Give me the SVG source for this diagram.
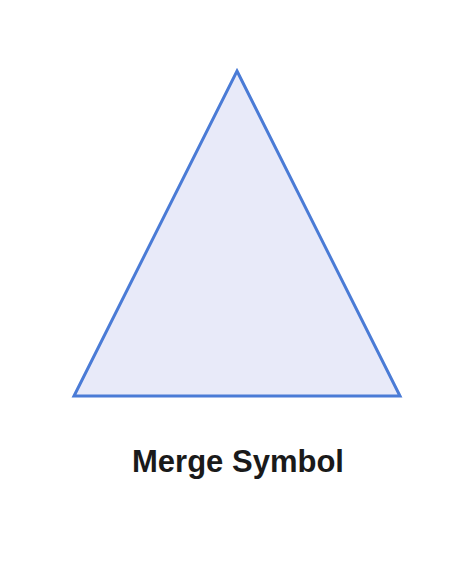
<svg xmlns="http://www.w3.org/2000/svg" width="474" height="571" viewBox="0 0 474 571">
<style>
.sym{fill:#e8eaf9;stroke:#4a7bd6;stroke-width:3;stroke-linejoin:miter}
.lbl{font-family:"Liberation Sans",Arial,sans-serif;font-weight:bold;font-size:31px;fill:#1a1a1a;text-anchor:middle}
</style>
<rect width="474" height="571" fill="#ffffff"/>
<g id="merge-symbol">
<polygon class="sym" points="237,71 400,396 74,396"/>
</g>
<g id="connectors"></g>
<g id="label">
<text class="lbl" x="238" y="472">Merge Symbol</text>
</g>
</svg>
